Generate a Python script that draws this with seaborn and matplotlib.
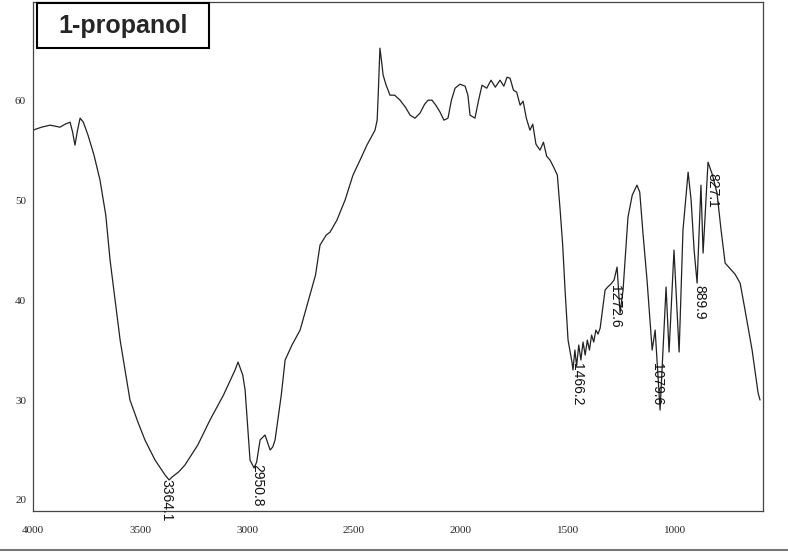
import numpy as np
import seaborn as sns
import matplotlib.pyplot as plt
from matplotlib.patches import Rectangle
from matplotlib.lines import Line2D

# IR spectrum of 1-propanol
wavenumber = [4000, 3960, 3920, 3874, 3850, 3827, 3815, 3804, 3792, 3780, 3765, 3743,
              3715, 3687, 3660, 3640, 3593, 3547, 3510, 3477, 3430, 3383, 3364, 3350,
              3320, 3290, 3230, 3173, 3110, 3056, 3042, 3020, 3009, 2986, 2967, 2955,
              2939, 2916, 2900, 2892, 2880, 2869, 2840, 2822, 2790, 2752, 2706, 2680,
              2659, 2630, 2612, 2580, 2542, 2505, 2472, 2440, 2402, 2392, 2388, 2379,
              2372, 2364, 2350, 2332, 2310, 2285, 2260, 2238, 2215, 2192, 2170, 2154,
              2136, 2118, 2098, 2080, 2061, 2045, 2028, 2005, 1981, 1968, 1958, 1935,
              1918, 1902, 1880, 1860, 1840, 1818, 1800, 1785, 1771, 1755, 1740, 1724,
              1710, 1695, 1678, 1665, 1650, 1631, 1615, 1600, 1584, 1565, 1550, 1537,
              1525, 1514, 1500, 1481, 1477, 1468, 1460, 1450, 1440, 1430, 1420, 1410,
              1400, 1390, 1380, 1370, 1360, 1350, 1327, 1315, 1300, 1285, 1271, 1257,
              1243, 1220, 1200, 1178, 1165, 1150, 1131, 1107, 1093, 1070, 1042, 1028,
              1005, 981, 963, 939, 925, 911, 897, 879, 869, 846, 825, 804, 785, 766,
              745, 720, 696, 673, 640, 612, 603]
transmittance = [57.0, 57.3, 57.5, 57.3, 57.6, 57.8, 56.8, 55.5, 57.0, 58.2, 57.8, 56.5,
                 54.5, 52.0, 48.5, 44.0, 36.0, 30.0, 27.8, 26.0, 24.0, 22.5, 22.0, 22.3,
                 22.8, 23.5, 25.5, 28.0, 30.5, 33.0, 33.8, 32.5, 31.0, 24.0, 23.2, 23.8,
                 26.0, 26.5, 25.5, 25.0, 25.3, 26.0, 30.5, 34.0, 35.5, 37.0, 40.5, 42.5,
                 45.5, 46.5, 46.8, 48.0, 50.0, 52.5, 54.0, 55.5, 57.0, 58.0, 60.0, 65.2,
                 64.0, 62.5, 61.5, 60.5, 60.5, 60.0, 59.3, 58.5, 58.2, 58.7, 59.6, 60.0,
                 60.0, 59.5, 58.8, 58.0, 58.2, 60.0, 61.2, 61.6, 61.4, 60.5, 58.5, 58.2,
                 60.0, 61.5, 61.2, 62.0, 61.3, 62.0, 61.4, 62.3, 62.2, 61.0, 60.8, 59.5,
                 59.9, 58.2, 57.0, 57.6, 55.6, 55.0, 55.8, 54.4, 54.0, 53.2, 52.5, 49.0,
                 45.5, 41.0, 36.0, 33.7, 33.0, 35.0, 33.4, 35.5, 34.0, 35.8, 34.5, 36.0,
                 35.0, 36.5, 35.8, 37.0, 36.6, 37.2, 41.0, 41.3, 41.6, 42.0, 43.3, 38.7,
                 41.0, 48.3, 50.5, 51.5, 50.8, 46.7, 42.0, 35.0, 37.0, 29.0, 41.3, 34.8,
                 45.0, 34.8, 47.0, 52.8, 50.0, 45.0, 41.7, 51.5, 44.7, 53.8, 52.5, 50.7,
                 47.0, 43.7, 43.2, 42.6, 41.7, 39.0, 35.0, 30.7, 30.0]

peak_labels = ["3364.1", "2950.8", "1466.2", "1272.6", "1079.6", "889.9", "827.1"]
peak_x = [3375, 2950, 1458, 1280, 1084, 888, 827]
peak_y = [22.1, 23.6, 33.7, 41.5, 33.7, 41.5, 52.7]

sns.set_style("white")
plt.rcParams["font.family"] = ["Liberation Serif", "DejaVu Serif"]

fig = plt.figure(figsize=(7.88, 5.56), dpi=100)
ax = fig.add_axes([0.0419, 0.081, 0.9264, 0.915])
sns.lineplot(x=wavenumber, y=transmittance, ax=ax, color="#222222",
             linewidth=0.9, sort=False, estimator=None)

ax.set_xlim(4000, 589)
ax.set_ylim(18.9, 69.8)
ax.set_xticks([4000, 3500, 3000, 2500, 2000, 1500, 1000])
ax.set_yticks([20, 30, 40, 50, 60])
ax.tick_params(axis="both", labelsize=8, length=3, width=0.8, direction="out",
               color="#333333", pad=2)
ax.tick_params(axis="x", pad=8)
for s in ax.spines.values():
    s.set_color("#444444")
    s.set_linewidth(0.9)

for lab, px, py in zip(peak_labels, peak_x, peak_y):
    ax.text(px, py, lab, rotation=270, ha="center", va="top", fontsize=10,
            family=["Liberation Sans", "DejaVu Sans"], color="#111111")

# title box
fig.patches.append(Rectangle((37 / 788, 1 - 48 / 556), 172 / 788, 45 / 556,
                             transform=fig.transFigure, facecolor="white",
                             edgecolor="black", linewidth=1.5))
fig.text(123 / 788, 1 - 26 / 556, "1-propanol", ha="center", va="center",
         fontsize=18, fontweight="bold", family=["Liberation Sans", "DejaVu Sans"])

# separator line under the scan
fig.lines.append(Line2D([0, 1], [1 - 550 / 556] * 2, transform=fig.transFigure,
                        color="#777777", linewidth=1.5))

plt.savefig("out.png", dpi=100)
